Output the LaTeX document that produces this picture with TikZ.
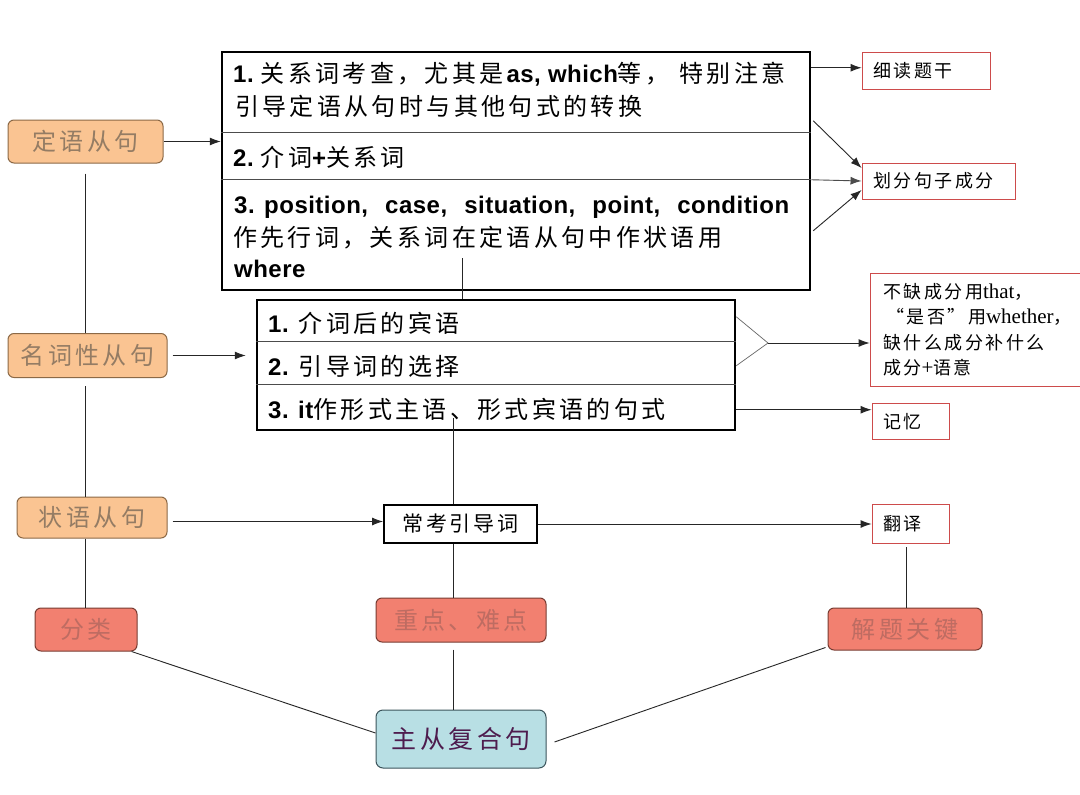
\documentclass[tikz,border=0pt]{standalone}
\usepackage{fontspec}
\setmainfont{Noto Sans CJK SC}
\newfontfamily\cjk{Noto Sans CJK SC}[LetterSpace=14]
\newfontfamily\cjkn{Noto Sans CJK SC}
\newfontfamily\arial{Liberation Sans}[LetterSpace=2]
\newfontfamily\tnr{Liberation Serif}
\usetikzlibrary{arrows.meta}
\newcommand\fsz[1]{\fontsize{#1}{#1}\selectfont}
\newcommand\lb[1]{{\arial\bfseries #1}}
\newcommand\tn[1]{{\tnr\fontsize{21}{25.5}\selectfont #1}}
\definecolor{orfill}{RGB}{250,196,146}
\definecolor{orline}{RGB}{140,105,70}
\definecolor{ortext}{RGB}{148,124,100}
\definecolor{safill}{RGB}{242,128,112}
\definecolor{saline}{RGB}{120,60,50}
\definecolor{satext}{RGB}{190,108,98}
\definecolor{cyfill}{RGB}{184,223,228}
\definecolor{cyline}{RGB}{60,85,92}
\definecolor{cytext}{RGB}{78,28,78}
\definecolor{redline}{RGB}{205,75,75}
\begin{document}
\begin{tikzpicture}[x=1pt,y=-1pt,
  obox/.style={draw=orline, fill=orfill, line width=1pt, rounded corners=6pt, text=ortext, font=\cjk\fsz{24}, inner sep=0pt},
  sbox/.style={draw=saline, fill=safill, line width=1pt, rounded corners=6pt, text=satext, font=\cjk\fsz{24}, inner sep=0pt},
  cbox/.style={draw=cyline, fill=cyfill, line width=1pt, rounded corners=7pt, text=cytext, font=\cjk\fsz{25}, inner sep=0pt},
  bigbox/.style={draw=black, line width=2.5pt, inner sep=0pt},
  divider/.style={draw=black!70, line width=1.3pt},
  rbox/.style={draw=redline, line width=0.9pt, inner xsep=11pt, inner ysep=0pt, align=left, font=\cjk\fsz{18}},
  txt/.style={anchor=base west, inner sep=0pt, font=\cjk\fsz{24}},
  conn/.style={draw=black!85, line width=0.9pt},
  arr/.style={conn, -{Latex[length=11pt,width=8pt]}}
]
\useasboundingbox (0,0) rectangle (1080,795);
\fill[white] (0,0) rectangle (1080,795);

% left column nodes
\node[obox, minimum width=155pt, minimum height=43pt] (dy) at (85.5,141.5) {定语从句};
\node[obox, minimum width=159pt, minimum height=44pt] (mc) at (87.5,355.5) {名词性从句};
\node[obox, minimum width=150pt, minimum height=41pt] (zy) at (92,517.5) {状语从句};
\node[sbox, minimum width=102pt, minimum height=43pt] (fl) at (86,629.5) {分类};
\node[sbox, minimum width=170pt, minimum height=44pt] (zd) at (461,620) {重点、难点};
\node[sbox, minimum width=154pt, minimum height=42pt] (jg) at (905,629) {解题关键};
\node[cbox, minimum width=170pt, minimum height=58pt] (zc) at (461,739) {主从复合句};

% big boxes
\node[bigbox, minimum width=588pt, minimum height=238pt] (b1) at (516,171) {};
\node[bigbox, minimum width=478pt, minimum height=130pt] (b2) at (496,365) {};
\draw[divider] ([yshift=-82pt]b1.north west) -- ([yshift=-82pt]b1.north east);
\draw[divider] ([yshift=-129pt]b1.north west) -- ([yshift=-129pt]b1.north east);
\draw[divider] ([yshift=-43pt]b2.north west) -- ([yshift=-43pt]b2.north east);
\draw[divider] ([yshift=-86pt]b2.north west) -- ([yshift=-86pt]b2.north east);

\node[txt] (t11) at (233,82) {\lb{1.}\hspace{7pt}关系词考查，尤其是\hspace{3pt}\lb{as, which}等，\hspace{10pt}特别注意};
\node[txt] (t12) at (235,115) {引导定语从句时与其他句式的转换};
\node[txt] (t2) at (233,166) {\lb{2.}\hspace{7pt}介词\lb{+}关系词};
\node[txt] (t31) at (234,213) {\lb{3. position,\hspace{10pt} case,\hspace{10pt} situation,\hspace{10pt} point,\hspace{10pt} condition}};
\node[txt] (t32) at (233,246) {作先行词，关系词在定语从句中作状语用};
\node[txt] (t33) at (234,277) {\lb{where}};

\node[txt] (u1) at (268,332) {\lb{1.}\hspace{10pt}介词后的宾语};
\node[txt] (u2) at (268,375) {\lb{2.}\hspace{10pt}引导词的选择};
\node[txt] (u3) at (268,418) {\lb{3. it}作形式主语、形式宾语的句式};

\node[draw=black, line width=1.8pt, minimum width=153pt, minimum height=38pt, inner sep=0pt, font=\cjk\fsz{21}] (ck) at (460.5,524) {常考引导词};

% right boxes
\node[rbox, text width=106pt, minimum height=37pt] (xd) at (926,70.5) {细读题干};
\node[rbox, text width=131pt, minimum height=36pt] (hf) at (938.5,181) {划分句子成分};
\node[rbox, inner xsep=13pt, text width=186pt, minimum height=113pt, font=\cjk\fontsize{18}{25.5}\selectfont] (tb) at (976,329.5) {不缺成分用\tn{that}，\\\hspace{3pt}“是否”用\tn{whether}，\\缺什么成分补什么\\成分\tn{+}语意};
\node[rbox, text width=55pt, minimum height=36pt] (jy) at (910.5,421.5) {记忆};
\node[rbox, text width=55pt, minimum height=39pt] (fy) at (910.5,523.5) {翻译};

% coordinates
\coordinate (vx) at (85,0);
\coordinate (vx2) at (906,0);
\coordinate (dyb) at ([yshift=-10pt]dy.south);
\coordinate (mcb) at ([yshift=-8pt]mc.south);
\coordinate (c1) at (462,258);
\coordinate (c2) at (453,418);
\coordinate (zdb) at ([yshift=-7pt]zd.south);
\coordinate (fyb) at ([yshift=-4pt]fy.south);
\coordinate (apex) at (768,343);
\coordinate (b2r3) at ([yshift=-111pt]b2.north east);
\coordinate (mcs) at ([xshift=5pt]mc.east);
\coordinate (zys) at ([xshift=5pt,yshift=-4pt]zy.east);

% connectors left column
\draw[conn] (dyb -| vx) -- (mc.north -| vx);
\draw[conn] (mcb -| vx) -- (zy.north -| vx);
\draw[conn] (zy.south -| vx) -- (fl.north -| vx);
\draw[arr] (dy.east) -- (dy.east -| b1.west);
\draw[arr] (mcs) -- ([xshift=-10pt]mcs -| b2.west);
\draw[arr] (zys) -- (zys -| ck.west);

% center column
\draw[conn] (c1) -- (c1 |- b2.north);
\draw[conn] (c2) -- (c2 |- ck.north);
\draw[conn] (ck.south -| c2) -- (zd.north -| c2);
\draw[conn] (zdb -| c2) -- (zc.north -| c2);
\draw[conn] ([xshift=-6pt]fl.south east) -- ([yshift=6pt]zc.west);
\draw[conn] ([xshift=-2pt,yshift=3pt]jg.south west) -- ([xshift=8pt,yshift=-3pt]zc.east);
\draw[arr] (ck.east) -- (ck.east -| fy.west);
\draw[conn] (fyb -| vx2) -- (jg.north -| vx2);

% right arrows
\draw[arr] ([yshift=-17pt]b1.north east) -- ([yshift=-17pt]b1.north east -| xd.west);
\draw[arr] ([xshift=2pt,yshift=-70pt]b1.north east) -- ([yshift=13pt]hf.west);
\draw[arr, draw=black!70] ([yshift=-129pt]b1.north east) -- (hf.west);
\draw[arr] ([xshift=2pt,yshift=-180pt]b1.north east) -- ([yshift=-9pt]hf.west);
\draw[conn, line width=0.7pt, draw=black!60] ([yshift=-18pt]b2.north east) -- (apex) -- ([yshift=-67pt]b2.north east);
\draw[arr] (apex) -- (apex -| tb.west);
\draw[arr] (b2r3) -- (b2r3 -| jy.west);
\end{tikzpicture}
\end{document}
